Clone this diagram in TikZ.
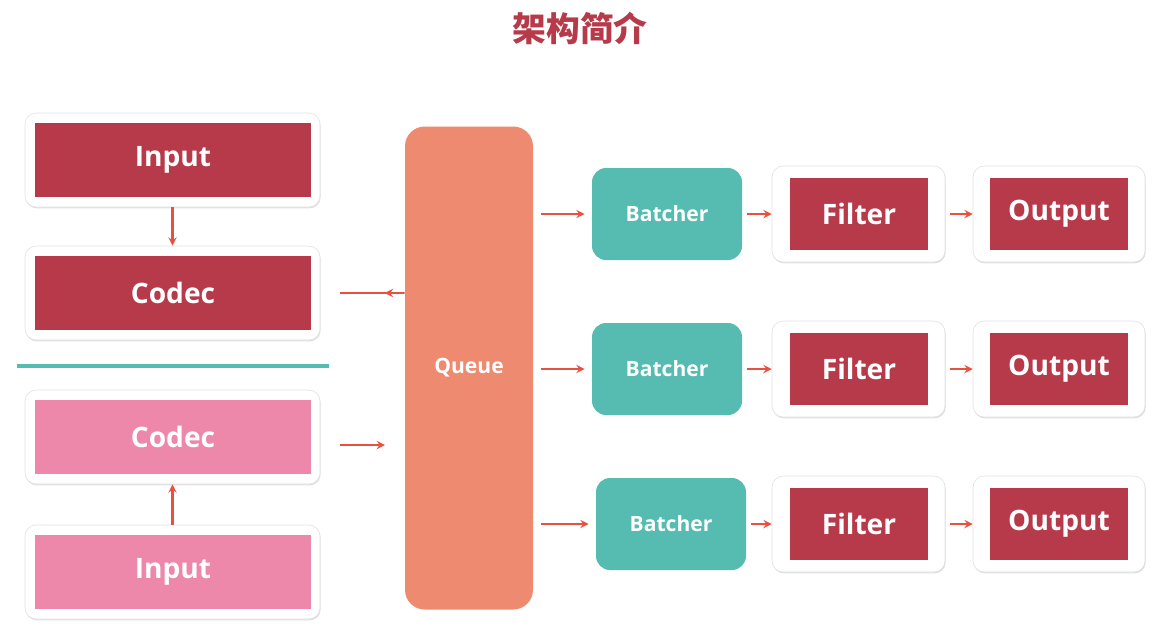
\documentclass[tikz,border=0pt]{standalone}
\usepackage{fontspec}
\setmainfont{Open Sans}
\newfontfamily\cjk{Noto Sans CJK SC}
\usetikzlibrary{shapes.geometric, arrows, calc, positioning, shadows}
\definecolor{darkred}{HTML}{B73A4A}
\definecolor{pinkbox}{HTML}{EE88AA}
\definecolor{tealbox}{HTML}{56BBB1}
\definecolor{queuec}{HTML}{EE8A70}
\definecolor{arrowc}{HTML}{E8503F}
\tikzstyle{frame} = [rectangle, rounded corners=8pt, fill=white, draw=black!12, drop shadow={opacity=0.25, shadow xshift=0.5pt, shadow yshift=-1pt}]
\tikzstyle{block} = [rectangle, text=white, font=\bfseries\fontsize{20}{22}\selectfont, inner sep=0pt]
\tikzstyle{batch} = [rectangle, rounded corners=10pt, fill=tealbox, text=white, font=\bfseries\fontsize{15}{17}\selectfont]
\tikzstyle{arrow} = [line width=1.6pt, arrowc, -{stealth}]
\begin{document}
\begin{tikzpicture}[x=0.025cm, y=-0.025cm]
		\useasboundingbox (0,0) rectangle (1168,641);
		\node (Title) at (580,28) {\cjk\bfseries\fontsize{24}{26}\selectfont\textcolor{darkred}{架构简介}};
		% left side
		\node (InputAFrame) [frame, minimum width=295*0.025cm, minimum height=94*0.025cm] at (172.5,160) {};
		\node (InputA) [block, fill=darkred, minimum width=276*0.025cm, minimum height=74*0.025cm] at (173,160) {Input};
		\node (CodecAFrame) [frame, minimum width=295*0.025cm, minimum height=94*0.025cm] at (172.5,293) {};
		\node (CodecA) [block, fill=darkred, minimum width=276*0.025cm, minimum height=74*0.025cm] at (173,293) {Codec};
		\node (CodecBFrame) [frame, minimum width=295*0.025cm, minimum height=94*0.025cm] at (172.5,437) {};
		\node (CodecB) [block, fill=pinkbox, minimum width=276*0.025cm, minimum height=74*0.025cm] at (173,437) {Codec};
		\node (InputBFrame) [frame, minimum width=295*0.025cm, minimum height=94*0.025cm] at (172.5,572) {};
		\node (InputB) [block, fill=pinkbox, minimum width=276*0.025cm, minimum height=74*0.025cm] at (173,572) {Input};
		\coordinate (SepLeft) at (17,366);
		\coordinate (SepRight) at (329,366);
		\draw [tealbox, line width=3pt] (SepLeft) -- (SepRight);
		\draw [arrow] (InputAFrame) -- (CodecAFrame);
		\draw [arrow] (InputBFrame) -- (CodecBFrame);
		% queue
		\node (Queue) [rectangle, rounded corners=14pt, fill=queuec, text=white, font=\bfseries\fontsize{15}{17}\selectfont, minimum width=128*0.025cm, minimum height=483*0.025cm] at (469,368) {Queue};
		\coordinate (QinA) at (340,293);
		\coordinate (QinB) at (340,445);
		\draw [arrow] (QinA) -- (QinA -| Queue.west) -- ++(-20,0);
		\draw [arrow] (QinB) -- ++(45,0);
		% right side rows
		\foreach \row/\y/\bx in {1/214/667, 2/369/667, 3/524/671} {
			\node (Batcher\row) [batch, minimum width=150*0.025cm, minimum height=92*0.025cm] at (\bx,\y) {Batcher};
			\node (FilterFrame\row) [frame, minimum width=173*0.025cm, minimum height=96*0.025cm] at (858.5,\y) {};
			\node (Filter\row) [block, fill=darkred, minimum width=138*0.025cm, minimum height=72*0.025cm] at (859,\y) {Filter};
			\node (OutputFrame\row) [frame, minimum width=172*0.025cm, minimum height=96*0.025cm] at (1059,\y) {};
			\node (Output\row) [block, fill=darkred, minimum width=138*0.025cm, minimum height=72*0.025cm] at (1059,\y) {Output};
			\coordinate (QOut\row) at (541,\y);
			\draw [arrow] (QOut\row) -- ([xshift=-5] Batcher\row.west);
			\draw [arrow] ([xshift=3] Batcher\row.east) -- (FilterFrame\row.west);
			\draw [arrow] ([xshift=3] FilterFrame\row.east) -- (OutputFrame\row.west);
		}
	\end{tikzpicture}
\end{document}
